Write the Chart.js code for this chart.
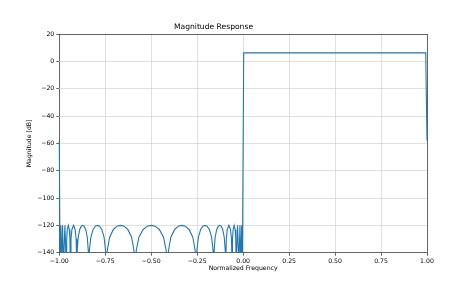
<!DOCTYPE html>
<html>
<head>
<meta charset="utf-8">
<script src="https://cdn.jsdelivr.net/npm/chart.js@4.4.1/dist/chart.umd.min.js"></script>
<style>
  html, body { margin: 0; padding: 0; background: #fff; }
  #c { display: block; }
</style>
</head>
<body>
<canvas id="c" width="474" height="284"></canvas>
<script>
// stopband (negative frequencies): lobes at -120 dB, nulls below the axis
const freqStop = [
  -1.0, -0.996, -0.992, -0.988, -0.9825, -0.977, -0.9695, -0.962,
  -0.9598, -0.9565, -0.951, -0.9455, -0.9422, -0.940,
  -0.9365, -0.9313, -0.9225, -0.9138, -0.9085, -0.905,
  -0.9024, -0.8972, -0.8888, -0.8803, -0.8725, -0.8647, -0.8563, -0.8478, -0.8426, -0.840,
  -0.8362, -0.8286, -0.8163, -0.8039, -0.7925, -0.7811, -0.7688, -0.7564, -0.7488, -0.745,
  -0.7387, -0.7262, -0.7058, -0.6853, -0.6665, -0.6477, -0.6273, -0.6068, -0.5943, -0.588,
  -0.5810, -0.5669, -0.5440, -0.5211, -0.5000, -0.4789, -0.4560, -0.4331, -0.4190, -0.412,
  -0.4057, -0.3932, -0.3728, -0.3523, -0.3335, -0.3147, -0.2943, -0.2738, -0.2613, -0.255,
  -0.2512, -0.2436, -0.2313, -0.2189, -0.2075, -0.1961, -0.1838, -0.1714, -0.1638, -0.160,
  -0.1574, -0.1522, -0.1438, -0.1353, -0.1275, -0.1197, -0.1113, -0.1028, -0.0976, -0.095,
  -0.0915, -0.0863, -0.0775, -0.0688, -0.0635, -0.060,
  -0.0578, -0.0545, -0.049, -0.0435, -0.0402, -0.038,
  -0.0305, -0.023, -0.0175, -0.012, -0.008, -0.004
];
const magStop = [
  -58, -150, -120, -150, -120, -150, -120, -150,
  -130, -123, -120, -123, -130, -150,
  -130, -123, -120, -123, -130, -150,
  -138, -128.7, -123, -120.6, -120, -120.6, -123, -128.7, -138, -150,
  -138, -128.7, -123, -120.6, -120, -120.6, -123, -128.7, -138, -150,
  -138, -128.7, -123, -120.6, -120, -120.6, -123, -128.7, -138, -150,
  -138, -128.7, -123, -120.6, -120, -120.6, -123, -128.7, -138, -150,
  -138, -128.7, -123, -120.6, -120, -120.6, -123, -128.7, -138, -150,
  -138, -128.7, -123, -120.6, -120, -120.6, -123, -128.7, -138, -150,
  -138, -128.7, -123, -120.6, -120, -120.6, -123, -128.7, -138, -150,
  -130, -123, -120, -123, -130, -150,
  -130, -123, -120, -123, -130, -150,
  -120, -150, -120, -150, -120, -150
];
// passband (positive frequencies)
const freqPass = [0.003, 0.25, 0.5, 0.75, 0.993, 1.0];
const magPass = [6.2, 6.2, 6.2, 6.2, 6.2, -58];

const xTicks = [-1, -0.75, -0.5, -0.25, 0, 0.25, 0.5, 0.75, 1];
const yTicks = [-140, -120, -100, -80, -60, -40, -20, 0, 20];

const freq = freqStop.concat(freqPass);
const mag = magStop.concat(magPass);
const points = freq.map((f, i) => ({ x: f, y: mag[i] }));

const fmt = (v, d) => {
  const s = Math.abs(v).toFixed(d);
  return v < 0 ? '\u2212' + s : s;
};

const FONT = 'DejaVu Sans';
const spine = '#222';
const grid = '#d3d3d3';

new Chart(document.getElementById('c'), {
  type: 'line',
  data: {
    datasets: [{
      data: points,
      borderColor: '#1f77b4',
      borderWidth: 1.1,
      pointRadius: 0,
      tension: 0,
      fill: false,
      clip: { left: 2, right: 2, top: 0, bottom: 0 }
    }]
  },
  options: {
    responsive: false,
    animation: false,
    events: [],
    layout: { padding: { left: 0, right: 47, top: 0, bottom: 0 } },
    plugins: {
      legend: { display: false },
      tooltip: { enabled: false },
      title: {
        display: true,
        text: 'Magnitude Response',
        color: '#000',
        font: { family: FONT, size: 7.6, weight: 'normal' },
        padding: { top: 22.5, bottom: 2.4 }
      }
    },
    scales: {
      x: {
        type: 'linear',
        min: -1, max: 1,
        afterBuildTicks: s => { s.ticks = xTicks.map(v => ({ value: v })); },
        afterFit: s => { s.height = 31.3; },
        ticks: {
          color: '#000',
          font: { family: FONT, size: 6.2 },
          padding: 1.5,
          maxRotation: 0,
          callback: v => fmt(v, 2)
        },
        grid: {
          color: c => (c.tick && (c.tick.value === -1 || c.tick.value === 1)) ? spine : grid,
          lineWidth: 0.7,
          tickLength: 3,
          tickColor: spine
        },
        border: { display: false },
        title: {
          display: true,
          text: 'Normalized Frequency',
          color: '#000',
          font: { family: FONT, size: 6.2 },
          padding: { top: 0, bottom: 11.5 }
        }
      },
      y: {
        type: 'linear',
        min: -140, max: 20,
        afterBuildTicks: s => { s.ticks = yTicks.map(v => ({ value: v })); },
        afterFit: s => { s.width = 59.3; },
        ticks: {
          color: '#000',
          font: { family: FONT, size: 6.2 },
          padding: 2,
          callback: v => fmt(v, 0)
        },
        grid: {
          color: c => (c.tick && (c.tick.value === -140 || c.tick.value === 20)) ? spine : grid,
          lineWidth: 0.7,
          tickLength: 3,
          tickColor: spine
        },
        border: { display: false },
        title: {
          display: true,
          text: 'Magnitude [dB]',
          color: '#000',
          font: { family: FONT, size: 6.2 },
          padding: { top: 26, bottom: 0 }
        }
      }
    }
  }
});
</script>
</body>
</html>
